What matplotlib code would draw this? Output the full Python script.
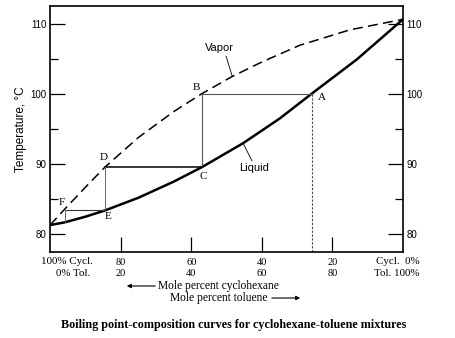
import matplotlib

matplotlib.use("Agg")
import matplotlib.pyplot as plt

# composition in mole percent cyclohexane, temperature in deg C
liquid_x = [100, 95.8, 90, 84.4, 75, 65, 56.9, 45.3, 35, 25.8, 13, 0]
liquid_t = [81.2, 81.6, 82.4, 83.3, 85.1, 87.4, 89.5, 92.9, 96.4, 100.0, 104.9, 110.6]
vapor_x = [100, 95.8, 90, 84.4, 75, 65, 56.9, 48.5, 40, 29.2, 15, 0]
vapor_t = [81.2, 83.5, 86.6, 89.5, 93.7, 97.4, 100.0, 102.4, 104.5, 106.9, 109.1, 110.6]

# distillation staircase A -> B -> C -> D -> E -> F -> liquid
step_x = [25.8, 56.9, 56.9, 84.4, 84.4, 95.8, 95.8]
step_t = [100.0, 100.0, 89.5, 89.5, 83.4, 83.4, 81.6]
label_pos = {"A": (22.9, 99.4), "B": (58.4, 100.9), "C": (56.7, 88.2),
             "D": (84.7, 90.8), "E": (83.6, 82.5), "F": (96.6, 84.4)}

tick_pos = [80, 60, 40, 20]
tick_labels = ["80\n20", "60\n40", "40\n60", "20\n80"]
yticks_major = [80, 90, 100, 110]
yticks_minor = [85, 95, 105]

SERIF = "Liberation Serif"
SANS = "Liberation Sans"

fig = plt.figure(figsize=(4.55, 3.38), dpi=100)
ax = fig.add_axes([50 / 455, 1 - 252 / 338, 353 / 455, 246 / 338])
ax.set_xlim(100, 0)
ax.set_ylim(77.36, 112.5)

ax.plot(liquid_x, liquid_t, color="black", linewidth=1.8,
        solid_capstyle="round", solid_joinstyle="round")
ax.plot(vapor_x, vapor_t, color="black", linewidth=1.1, dashes=(6.5, 3.5))

# staircase segments
seg_styles = [
    dict(color="#555555", linewidth=0.8),  # A-B
    dict(color="#555555", linewidth=0.8),  # B-C
    dict(color="black", linewidth=1.1),    # C-D
    dict(color="#666666", linewidth=0.7),  # D-E
    dict(color="#333333", linewidth=0.8),  # E-F
    dict(color="#666666", linewidth=0.7),  # F-liquid
]
for i, st in enumerate(seg_styles):
    ax.plot(step_x[i:i + 2], step_t[i:i + 2], **st)

ylo = ax.get_ylim()[0]
ax.plot([step_x[0], step_x[0]], [step_t[0], ylo], color="#444444",
        linewidth=0.8, dashes=(2, 1.5))

for name, (lx, lt) in label_pos.items():
    ax.text(lx, lt, name, fontsize=8, family=SERIF, ha="center", va="center")

ax.text(52.1, 106.5, "Vapor", fontsize=8, family=SANS, ha="center", va="center")
ax.plot([50.1, 48.4], [105.3, 102.5], color="black", linewidth=0.6)
ax.text(42.2, 89.3, "Liquid", fontsize=8, family=SANS, ha="center", va="center")
ax.plot([45.3, 42.8], [92.9, 90.4], color="black", linewidth=0.6)

# axes styling
for sp in ax.spines.values():
    sp.set_linewidth(1.2)
ax.set_xticks(tick_pos, labels=tick_labels)
ax.tick_params(axis="x", direction="in", length=11, width=0.9, pad=4,
               labelsize=7.5)
for lab in ax.get_xticklabels():
    lab.set_family(SERIF)
    lab.set_linespacing(1.3)

ax.set_yticks(yticks_major)
ax.set_yticks(yticks_minor, minor=True)
ax.tick_params(axis="y", which="both", direction="in", left=True, right=True,
               labelleft=True, labelright=True, labelsize=7, pad=2.5)
ax.tick_params(axis="y", which="major", length=11, width=0.9)
ax.tick_params(axis="y", which="minor", length=6, width=0.9)
for lab in ax.get_yticklabels():
    lab.set_family(SANS)
ax.set_ylabel("Temperature, \u00b0C", fontsize=8.5, family=SANS)
ax.yaxis.set_label_coords(-0.065, 0.5)


def fx(px):
    return px / 455


def fy(py):
    return 1 - py / 338


# corner labels on x axis
fig.text(fx(93), fy(262), "100% Cycl.", fontsize=7.9, family=SERIF,
         ha="right", va="center")
fig.text(fx(90), fy(274), "0% Tol.", fontsize=7.9, family=SERIF,
         ha="right", va="center")
fig.text(fx(420), fy(262), "Cycl.  0%", fontsize=7.9, family=SERIF,
         ha="right", va="center")
fig.text(fx(420), fy(274), "Tol. 100%", fontsize=7.9, family=SERIF,
         ha="right", va="center")

fig.text(fx(158), fy(286), "Mole percent cyclohexane", fontsize=8.3,
         family=SERIF, ha="left", va="center")
fig.text(fx(170), fy(298), "Mole percent toluene", fontsize=8.3,
         family=SERIF, ha="left", va="center")
fig.add_artist(matplotlib.patches.FancyArrowPatch(
    (fx(158), fy(286)), (fx(124), fy(286)), transform=fig.transFigure,
    arrowstyle="-|>", mutation_scale=6, linewidth=0.8, color="black"))
fig.add_artist(matplotlib.patches.FancyArrowPatch(
    (fx(269), fy(298)), (fx(303), fy(298)), transform=fig.transFigure,
    arrowstyle="-|>", mutation_scale=6, linewidth=0.8, color="black"))

fig.text(fx(234), fy(325),
         "Boiling point-composition curves for cyclohexane-toluene mixtures",
         fontsize=8.7, family=SERIF, weight="bold", ha="center", va="center")

fig.savefig("out.png", dpi=100)
